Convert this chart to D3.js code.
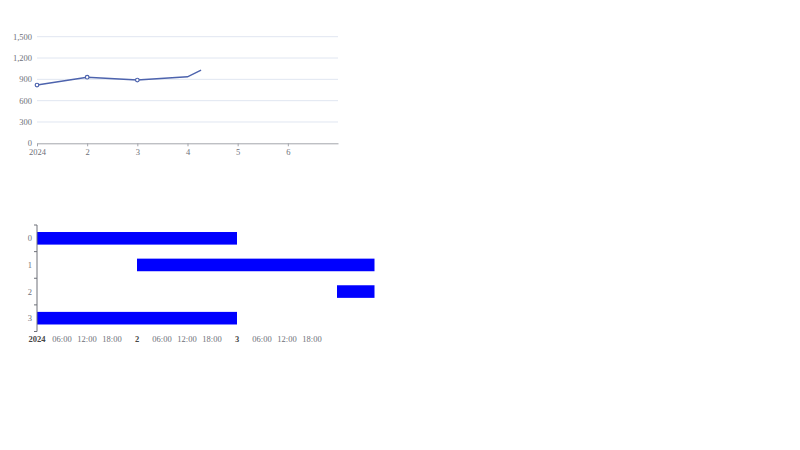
<!DOCTYPE html>
<html>
<head>
<meta charset="utf-8">
<script src="https://cdn.jsdelivr.net/npm/d3@7"></script>
<style>
  body { margin: 0; background: #fff; }
  svg text { font-family: "Liberation Serif", "DejaVu Serif", serif; font-size: 8.5px; }
</style>
</head>
<body>
<div id="chart"></div>
<script>
// line chart data
var lineDates = ["2024-01-01T00:00", "2024-01-02T00:00", "2024-01-03T00:00", "2024-01-04T00:00", "2024-01-04T06:30"];
var lineValues = [820, 930, 890, 935, 1030];
var lineTicks = [0, 300, 600, 900, 1200, 1500];
var lineDayTicks = ["2024-01-01T00:00", "2024-01-02T00:00", "2024-01-03T00:00", "2024-01-04T00:00", "2024-01-05T00:00", "2024-01-06T00:00"];

// timeline bars data
var barCategories = ["0", "1", "2", "3"];
var barStarts = ["2024-01-01T00:00", "2024-01-02T00:00", "2024-01-04T00:00", "2024-01-01T00:00"];
var barEnds = ["2024-01-03T00:00", "2024-01-04T09:00", "2024-01-04T09:00", "2024-01-03T00:00"];

var parse = d3.timeParse("%Y-%m-%dT%H:%M");
var width = 800, height = 450;

var svg = d3.select("#chart")
  .append("svg")
  .attr("width", width)
  .attr("height", height);

//Top chart
//============
var x1 = d3.scaleTime()
  .domain([parse("2024-01-01T00:00"), parse("2024-01-07T00:00")])
  .range([37, 338]);
var y1 = d3.scaleLinear().domain([0, 1500]).range([143.3, 36.7]);

// grid lines
svg.append("g").selectAll("line")
  .data(lineTicks.slice(1))
  .enter().append("line")
  .attr("x1", 37).attr("x2", 338)
  .attr("y1", function(d) { return y1(d); })
  .attr("y2", function(d) { return y1(d); })
  .attr("stroke", "#E0E6F1");

// y labels
svg.append("g").selectAll("text")
  .data(lineTicks)
  .enter().append("text")
  .attr("x", 32)
  .attr("y", function(d) { return y1(d) + 3; })
  .attr("text-anchor", "end")
  .attr("fill", "#6E7079")
  .text(d3.format(","));

// x axis
var xAxis1 = d3.axisBottom(x1)
  .tickValues(lineDayTicks.map(parse))
  .tickSize(3)
  .tickSizeOuter(0)
  .tickFormat(function(d) {
    return d.getDate() === 1 ? "2024" : d.getDate();
  });
var gx1 = svg.append("g")
  .attr("transform", "translate(0," + y1(0) + ")")
  .call(xAxis1);
gx1.select(".domain").attr("stroke", "#a3a5ab");
gx1.selectAll(".tick line").attr("stroke", "#a3a5ab");
gx1.selectAll(".tick text").attr("fill", "#6E7079").attr("y", 12).attr("dy", 0)
  .style("font-size", "8.5px").style("font-family", "Liberation Serif, serif");

// line
var linePts = lineDates.map(function(d, i) { return [parse(d), lineValues[i]]; });
var line = d3.line()
  .x(function(d) { return x1(d[0]); })
  .y(function(d) { return y1(d[1]); });
svg.append("path")
  .datum(linePts)
  .attr("d", line)
  .attr("fill", "none")
  .attr("stroke", "#4d63ad")
  .attr("stroke-width", 1.5);

svg.append("g").selectAll("circle")
  .data(linePts.slice(0, 3))
  .enter().append("circle")
  .attr("cx", function(d) { return x1(d[0]); })
  .attr("cy", function(d) { return y1(d[1]); })
  .attr("r", 1.8)
  .attr("fill", "#fff")
  .attr("stroke", "#4d63ad")
  .attr("stroke-width", 1.2);

//Bottom chart
//============
var x2 = d3.scaleTime()
  .domain([parse("2024-01-01T00:00"), parse("2024-01-04T00:00")])
  .range([37, 337]);
var y2 = d3.scaleBand().domain(barCategories).range([225, 331.5]);

var barH = 12.6;
svg.append("g").selectAll("rect")
  .data(barCategories)
  .enter().append("rect")
  .attr("x", function(d, i) { return x2(parse(barStarts[i])); })
  .attr("width", function(d, i) { return x2(parse(barEnds[i])) - x2(parse(barStarts[i])); })
  .attr("y", function(d) { return y2(d) + (y2.bandwidth() - barH) / 2; })
  .attr("height", barH)
  .attr("fill", "#0000ff");

// y axis with boundary ticks
var gy2 = svg.append("g");
gy2.append("line")
  .attr("x1", 37).attr("x2", 37)
  .attr("y1", 225).attr("y2", 331.5)
  .attr("stroke", "#6E7079");
gy2.selectAll(".bt")
  .data(barCategories.concat(["end"]))
  .enter().append("line")
  .attr("class", "bt")
  .attr("x1", 34).attr("x2", 37)
  .attr("y1", function(d, i) { return 225 + i * y2.step(); })
  .attr("y2", function(d, i) { return 225 + i * y2.step(); })
  .attr("stroke", "#6E7079");
gy2.selectAll("text")
  .data(barCategories)
  .enter().append("text")
  .attr("x", 32)
  .attr("y", function(d) { return y2(d) + y2.bandwidth() / 2 + 3; })
  .attr("text-anchor", "end")
  .attr("fill", "#6E7079")
  .text(function(d) { return d; });

// x labels every 6 hours, no axis line
var hourTicks = d3.timeHour.every(6).range(parse("2024-01-01T00:00"), parse("2024-01-04T00:00"));
svg.append("g").selectAll("text")
  .data(hourTicks)
  .enter().append("text")
  .attr("x", function(d) { return x2(d); })
  .attr("y", 342)
  .attr("text-anchor", "middle")
  .attr("fill", function(d) { return d.getHours() === 0 ? "#464646" : "#6E7079"; })
  .attr("font-weight", function(d) { return d.getHours() === 0 ? "bold" : "normal"; })
  .text(function(d) {
    if (d.getHours() !== 0) return d3.timeFormat("%H:%M")(d);
    return d.getDate() === 1 ? "2024" : d.getDate();
  });
</script>
</body>
</html>
